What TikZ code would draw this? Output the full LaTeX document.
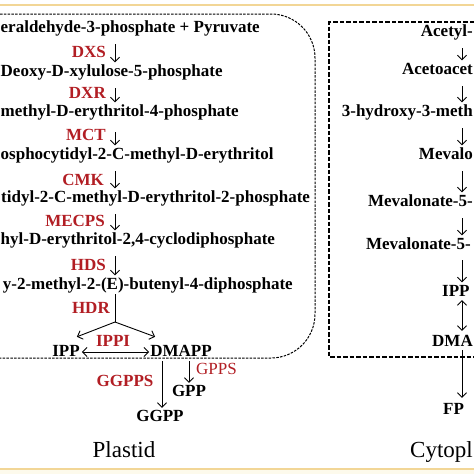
\documentclass[tikz,border=0pt]{standalone}
\usepackage{fontspec}
\setmainfont{Liberation Serif}
\usetikzlibrary{arrows.meta,calc}
\definecolor{enzred}{RGB}{178,30,36}
\definecolor{frameyellow}{RGB}{242,214,150}
\definecolor{framecream}{RGB}{253,250,236}
\begin{document}
\begin{tikzpicture}[x=1pt,y=-1pt,
  mep/.style={font=\fontsize{17}{19}\selectfont\bfseries, inner sep=0pt, text height=12pt, text depth=4pt},
  enz/.style={mep, text=enzred},
  enzr/.style={font=\fontsize{17}{19}\selectfont, inner sep=0pt, text height=12pt, text depth=4pt, text=enzred},
  comp/.style={font=\fontsize{23}{26}\selectfont, inner sep=0pt, text height=16pt, text depth=5pt},
  arr/.style={-{Straight Barb[length=4.5pt,width=9pt]}, line width=0.9pt},
  darr/.style={{Straight Barb[length=4.5pt,width=9pt]}-{Straight Barb[length=4.5pt,width=9pt]}, line width=0.9pt},
  plastbox/.style={line width=1pt, dash pattern=on 2.5pt off 1.3pt, rounded corners=44pt},
  cytbox/.style={line width=1.2pt, dash pattern=on 4.5pt off 2pt}
]
\useasboundingbox (0,0) rectangle (474,474);
\fill[white] (0,0) rectangle (474,474);
% outer frame lines
\fill[framecream] (0,469) rectangle (474,474);
\draw[frameyellow, line width=1.5pt] (0,5) -- (474,5);
\draw[frameyellow, line width=1.5pt] (0,469) -- (474,469);

% compartments
\draw[plastbox] (0,14) -- (315,14) -- (315,358) -- (0,358);
\draw[cytbox] (474,22) -- (329,22) -- (329,357) -- (474,357);

% MEP pathway
\coordinate (ax) at (115,0);
\node[mep, anchor=west] (l1) at (0.5,28) {eraldehyde-3-phosphate + Pyruvate};
\node[mep, anchor=west] (l2) at (0.5,72) {Deoxy-D-xylulose-5-phosphate};
\node[mep, anchor=west] (l3) at (0.5,112) {methyl-D-erythritol-4-phosphate};
\node[mep, anchor=west] (l4) at (0.5,155) {osphocytidyl-2-C-methyl-D-erythritol};
\node[mep, anchor=west] (l5) at (1,198) {tidyl-2-C-methyl-D-erythritol-2-phosphate};
\node[mep, anchor=west] (l6) at (0.5,240) {hyl-D-erythritol-2,4-cyclodiphosphate};
\node[mep, anchor=east] (l7) at (293,285) {y-2-methyl-2-(E)-butenyl-4-diphosphate};

\draw[arr, shorten <=8pt, shorten >=1.5pt] (l1.south -| ax) -- (l2.north -| ax);
\draw[arr, shorten <=8pt, shorten >=1.5pt] (l2.south -| ax) -- (l3.north -| ax);
\draw[arr, shorten <=12pt, shorten >=1.5pt] (l3.south -| ax) -- (l4.north -| ax);
\draw[arr, shorten <=8pt, shorten >=1.5pt] (l4.south -| ax) -- (l5.north -| ax);
\draw[arr, shorten <=8pt, shorten >=1.5pt] (l5.south -| ax) -- (l6.north -| ax);
\draw[arr, shorten <=8pt, shorten >=1.5pt] (l6.south -| ax) -- (l7.north -| ax);

\node[enz, anchor=east] (dxs) at (106,53) {DXS};
\node[enz, anchor=east] (dxr) at (106,94) {DXR};
\node[enz, anchor=east] (mct) at (106,136) {MCT};
\node[enz, anchor=east] (cmk) at (104,181) {CMK};
\node[enz, anchor=east] (mecps) at (105,222) {MECPS};
\node[enz, anchor=east] (hds) at (106,266) {HDS};
\node[enz, anchor=east] (hdr) at (110,309) {HDR};

\node[mep] (ipp) at (66,352) {IPP};
\node[mep] (dmapp) at (181,352) {DMAPP};
\coordinate (br) at (115,322);
\draw[line width=0.9pt, shorten <=1pt] (l7.south -| ax) -- (br);
\draw[arr] (br) -- ($(ipp.north east)+(-3,-7)$);
\draw[arr] (br) -- ($(dmapp.north west)+(5,-7)$);
\draw[darr, shorten <=2pt, shorten >=1pt] (ipp.east) -- (dmapp.west);
\node[enz] (ippi) at (113,342) {IPPI};

\node[mep] (ggpp) at (160,417) {GGPP};
\node[mep] (gpp) at (189,392) {GPP};
\coordinate (gx) at (162,0);
\coordinate (px) at (189,0);
\draw[arr, shorten <=1pt, shorten >=1pt] (dmapp.south -| gx) -- (ggpp.north -| gx);
\draw[arr, shorten <=1pt, shorten >=1pt] (dmapp.south -| px) -- (gpp.north);
\node[enz] (ggpps) at (125,382) {GGPPS};
\node[enzr, anchor=west] (gpps) at (196,370) {GPPS};

\node[comp] (plastid) at (124,452) {Plastid};

% MVA pathway
\coordinate (mx) at (462,0);
\node[mep, anchor=east] (m1) at (473,32) {Acetyl-};
\node[mep, anchor=east] (m2) at (473,70) {Acetoacet};
\node[mep, anchor=east] (m3) at (473,112) {3-hydroxy-3-meth};
\node[mep, anchor=east] (m4) at (473,155) {Mevalo};
\node[mep, anchor=east] (m5) at (473,202) {Mevalonate-5-};
\node[mep, anchor=east] (m6) at (471,245) {Mevalonate-5-};
\node[mep, anchor=west] (m7) at (442,292) {IPP};
\node[mep, anchor=east] (m8) at (473,342) {DMA};
\node[mep, anchor=west] (m9) at (443,410) {FP};

\draw[arr, shorten <=8pt, shorten >=1.5pt] (m1.south -| mx) -- (m2.north -| mx);
\draw[arr, shorten <=8pt, shorten >=1.5pt] (m2.south -| mx) -- (m3.north -| mx);
\draw[arr, shorten <=8pt, shorten >=1.5pt] (m3.south -| mx) -- (m4.north -| mx);
\draw[arr, shorten <=8pt, shorten >=1.5pt] (m4.south -| mx) -- (m5.north -| mx);
\draw[arr, shorten <=8pt, shorten >=1.5pt] (m5.south -| mx) -- (m6.north -| mx);
\draw[arr, shorten <=7pt, shorten >=1.5pt] (m6.south -| mx) -- (m7.north -| mx);
\draw[darr, shorten <=0pt, shorten >=3pt] (m7.south -| mx) -- (m8.north -| mx);
\draw[arr, shorten <=0pt, shorten >=4pt] (m8.south -| mx) -- (m9.north -| mx);

\node[comp, anchor=west] (cyto) at (410,452) {Cytopl};
\end{tikzpicture}
\end{document}
